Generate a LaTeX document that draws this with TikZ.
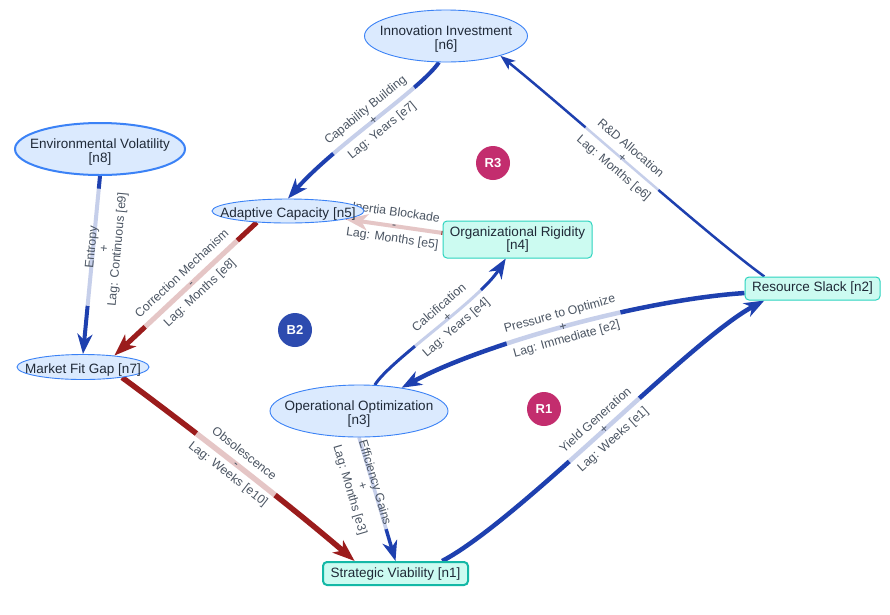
\documentclass[tikz,border=0pt]{standalone}
\usepackage{fontspec}
\setmainfont{Liberation Sans}
\definecolor{cldblue} {RGB}{30,64,175}
\definecolor{cldred}  {RGB}{155,28,28}
\definecolor{cldfill} {RGB}{219,234,254}
\definecolor{cldline} {RGB}{59,130,246}
\definecolor{cldteal} {RGB}{45,212,191}
\definecolor{clddeep} {RGB}{20,184,166}
\definecolor{cldmint} {RGB}{204,251,241}
\definecolor{cldtext} {RGB}{31,41,55}
\definecolor{cldgray} {RGB}{75,85,99}
\definecolor{cldpink} {RGB}{195,45,110}
\definecolor{cldloop} {RGB}{45,75,175}
\usetikzlibrary{arrows.meta,shapes.geometric,backgrounds}
\newcommand{\nodefont}{\fontsize{13.5}{13.5}\selectfont}
\newcommand{\labfont}{\fontsize{12.3}{13}\selectfont}
\newcommand{\tight}[1]{\makebox[0pt]{\raisebox{-3.5pt}[\height][\depth]{%
  \begin{tabular}{@{}c@{}}#1\end{tabular}}}}
\tikzset{
  stock/.style={ellipse,draw=cldline,fill=cldfill,line width=0.9pt,
                text=cldtext,font=\nodefont,inner sep=0pt},
  flow/.style={rectangle,rounded corners=4pt,draw=cldteal,fill=cldmint,
               line width=1pt,text=cldtext,font=\nodefont,align=center,
               inner sep=2pt},
  plink/.style={-{Stealth[length=20pt,width=15pt,inset=6pt]},draw=cldblue,
                line width=#1},
  nlink/.style={-{Stealth[length=22pt,width=16pt,inset=6pt]},draw=cldred,
                line width=#1},
  tipsmall/.style={-{Stealth[length=15pt,width=11pt,inset=4pt]}},
  elabel/.style={sloped,align=center,font=\labfont,text=cldgray,
                 fill=white,fill opacity=0.75,text opacity=1,inner sep=1.5pt},
  loopmark/.style={circle,fill=#1,text=white,minimum size=34pt,inner sep=0pt,
                   font=\bfseries\fontsize{13}{13}\selectfont},
}
\begin{document}
\begin{tikzpicture}[x=1pt,y=-1pt]
  \useasboundingbox (0,0) rectangle (890,614);
  \node[stock,minimum width=163pt,minimum height=52pt] (n6) at (446,36)
       {\tight{Innovation Investment\\{}[n6]}};
  \node[stock,minimum width=170pt,minimum height=52pt,line width=2pt] (n8) at (100,149)
       {\tight{Environmental Volatility\\{}[n8]}};
  \node[stock,minimum width=152pt,minimum height=24pt] (n5) at (288,211)
       {\tight{Adaptive Capacity [n5]}};
  \node[stock,minimum width=132pt,minimum height=25pt] (n7) at (83,367)
       {\tight{Market Fit Gap [n7]}};
  \node[stock,minimum width=178pt,minimum height=52pt] (n3) at (359,411)
       {\tight{Operational Optimization\\{}[n3]}};
  \node[flow,minimum width=149pt,minimum height=37pt] (n4) at (517.5,239.5)
       {Organizational Rigidity\\{}[n4]};
  \node[flow,minimum width=135pt,minimum height=23pt] (n2) at (812.5,288.5)
       {Resource Slack [n2]};
  \node[flow,minimum width=145pt,minimum height=23pt,draw=clddeep,line width=2pt] (n1)
       at (395.5,573.5) {Strategic Viability [n1]};
  \node[loopmark=cldpink] (r3) at (493,163) {R3};
  \node[loopmark=cldloop] (b2) at (295,330) {B2};
  \node[loopmark=cldpink] (r1) at (544,409) {R1};

  \begin{scope}[on background layer]
    \fill[white] (0,0) rectangle (890,614);
    \draw[plink=4pt] (n6.-105) .. controls (420,90) and (335,145) .. (n5.north)
         node[elabel,pos=0.5] {Capability Building\\+\\Lag: Years [e7]};
    \draw[plink=2.5pt,tipsmall] (n2.166) .. controls (707,235) and (570,112) .. (n6.-20)
         node[elabel,pos=0.55] {R\&D Allocation\\+\\Lag: Months [e6]};
    \draw[nlink=4pt] (n4.175) -- (n5)
         node[elabel,pos=0.5] {Inertia Blockade\\-\\Lag: Months [e5]};
    \draw[nlink=5pt] (n5.-160) -- (n7.20)
         node[elabel,pos=0.46] {Correction Mechanism\\-\\Lag: Months [e8]};
    \draw[plink=4pt] (n8.south) -- (n7.north)
         node[elabel,pos=0.4,yshift=-12pt] {Entropy\\+\\Lag: Continuous [e9]};
    \draw[nlink=5.5pt] (n7.-15) .. controls (180,420) and (290,505) .. (n1.163)
         node[elabel,pos=0.5] {Obsolescence\\-\\Lag: Weeks [e10]};
    \draw[plink=3.5pt] (n3.south) -- (n1.north)
         node[elabel,pos=0.37,yshift=-11pt] {Efficiency Gains\\+\\Lag: Months [e3]};
    \draw[plink=3pt] (n3) .. controls (390,360) and (480,300) .. (n4)
         node[elabel,pos=0.57] {Calcification\\+\\Lag: Years [e4]};
    \draw[plink=4.5pt] (n2) .. controls (640,300) and (480,345) .. (n3)
         node[elabel,pos=0.5] {Pressure to Optimize\\+\\Lag: Immediate [e2]};
    \draw[plink=4.5pt] (n1.15) .. controls (520,520) and (690,340) .. (n2.194)
         node[elabel,pos=0.5] {Yield Generation\\+\\Lag: Weeks [e1]};
  \end{scope}
\end{tikzpicture}
\end{document}
